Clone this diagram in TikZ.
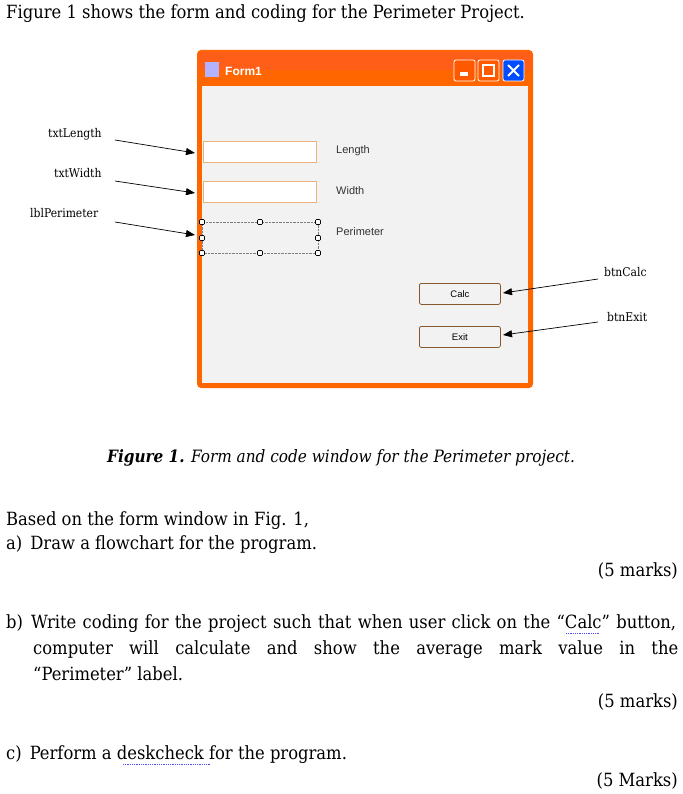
\documentclass[tikz,border=0pt]{standalone}
\usepackage{fontspec}
\setmainfont{DejaVu Serif Condensed}
\newfontfamily\guifont{Liberation Sans}
\newfontfamily\lmfont{Latin Modern Roman}
\usetikzlibrary{arrows.meta}
\begin{document}
\begin{tikzpicture}[x=1pt,y=-1pt,
  txt/.style={anchor=base west,inner sep=0pt,font=\fontsize{18.2}{20}\selectfont},
  txtr/.style={anchor=base east,inner sep=0pt,font=\fontsize{18.2}{20}\selectfont},
  gui/.style={inner sep=0pt,font=\guifont\fontsize{11}{12}\selectfont,text=black!80},
  cname/.style={inner sep=0pt,font=\fontsize{12}{13}\selectfont},
  tbox/.style={draw=brown!50!orange!60,fill=white,line width=0.8pt},
  btnbox/.style={draw=brown!70!black,fill=gray!10,rounded corners=2pt,line width=0.8pt,font=\guifont\fontsize{9.5}{10}\selectfont},
  handle/.style={draw=black,fill=white,rounded corners=1pt,minimum size=5pt,inner sep=0pt,line width=0.6pt},
  arr/.style={-{Triangle[length=9pt,width=7pt]},line width=0.7pt}]
\useasboundingbox (0,0) rectangle (682,794);
\fill[white] (0,0) rectangle (682,794);
\node[txt] (title) at (6,19) {Figure 1 shows the form and coding for the Perimeter Project.};
% form
\fill[orange!80!red,rounded corners=4pt] (197,50) rectangle (533,388);
\fill[orange!60!red!90!white] (199,52) rectangle (531,70);
\fill[gray!10] (202,86) rectangle (528,383);
\fill[white!70!blue] (205,62) rectangle (219,77);
\node[inner sep=0pt,anchor=west,text=white,font=\guifont\bfseries\fontsize{12}{13}\selectfont] (ftitle) at (225,71) {Form1};
\foreach \x/\c in {454/orange!70!red,478/orange!70!red,503/blue!70!cyan}{
  \draw[white,fill=\c,rounded corners=2pt,line width=0.8pt] (\x,60) rectangle (\x+21,81);}
\fill[white] (460,72) rectangle (468,76);
\draw[white,line width=1.2pt] (483,65) rectangle (494,76);
\draw[white,line width=2pt] (508,65) -- (519,76) (519,65) -- (508,76);
\node[tbox,minimum width=113pt,minimum height=21pt,anchor=north west] (txtL) at (203,141) {};
\node[tbox,minimum width=113pt,minimum height=21pt,anchor=north west] (txtW) at (203,181) {};
\node[gui,anchor=west] (lL) at (336,151) {Length};
\node[gui,anchor=west] (lW) at (336,191) {Width};
\node[gui,anchor=west] (lP) at (336,232) {Perimeter};
\node[draw=gray,densely dotted,minimum width=116pt,minimum height=31pt,anchor=north west,inner sep=0pt] (lblP) at (202,222) {};
\foreach \p in {(202,222),(260,222),(318,222),(202,238),(318,238),(202,253),(260,253),(318,253)}
  \node[handle] at \p {};
\node[btnbox,minimum width=81pt,minimum height=21pt,anchor=north west] (calc) at (419,283) {Calc};
\node[btnbox,minimum width=81pt,minimum height=21pt,anchor=north west] (exit) at (419,326) {Exit};
% callouts
\node[cname,anchor=west] (nL) at (48,134) {txtLength};
\node[cname,anchor=west] (nW) at (54,173) {txtWidth};
\node[cname,anchor=west] (nP) at (30,213) {lblPerimeter};
\node[cname,anchor=west] (nC) at (604,272) {btnCalc};
\node[cname,anchor=west] (nE) at (607,317) {btnExit};
\coordinate (aL) at (195,153);
\coordinate (aW) at (195,193);
\coordinate (aP) at (195,235);
\coordinate (aC) at (503,293);
\coordinate (aE) at (503,335);
\draw[arr] (115,140) -- (aL);
\draw[arr] (115,181) -- (aW);
\draw[arr] (115,222) -- (aP);
\draw[arr] (598,279) -- (aC);
\draw[arr] (598,322) -- (aE);
% caption
\node[inner sep=0pt,anchor=base,font=\fontsize{17}{20}\selectfont\itshape] (cap) at (341,462) {\textbf{Figure 1.} Form and code window for the Perimeter project.};
% questions
\node[txt] (q0) at (6,525) {Based on the form window in Fig. 1,};
\node[txt] (qa) at (6,549) {a)\hspace{8pt}Draw a flowchart for the program.};
\node[txtr] (ma) at (678,576) {(5 marks)};
\node[txt] (qb1) at (6,628) {b)\hspace{8pt}\makebox[645pt][s]{Write coding for the project such that when user click on the “Calc” button,}};
\node[txt] (qb2) at (33,654) {\makebox[645pt][s]{computer will calculate and show the average mark value in the}};
\node[txt] (qb3) at (33,680) {“Perimeter” label.};
\node[txtr] (mb) at (678,707) {(5 marks)};
\node[txt] (qc) at (6,759) {c)\hspace{8pt}Perform a deskcheck for the program.};
\node[txtr] (mc) at (678,786) {(5 Marks)};
\draw[blue!70,densely dotted,line width=0.8pt] (566,633) -- (600,633);
\draw[blue!70,densely dotted,line width=0.8pt] (123,764) -- (210,764);
\end{tikzpicture}
\end{document}
